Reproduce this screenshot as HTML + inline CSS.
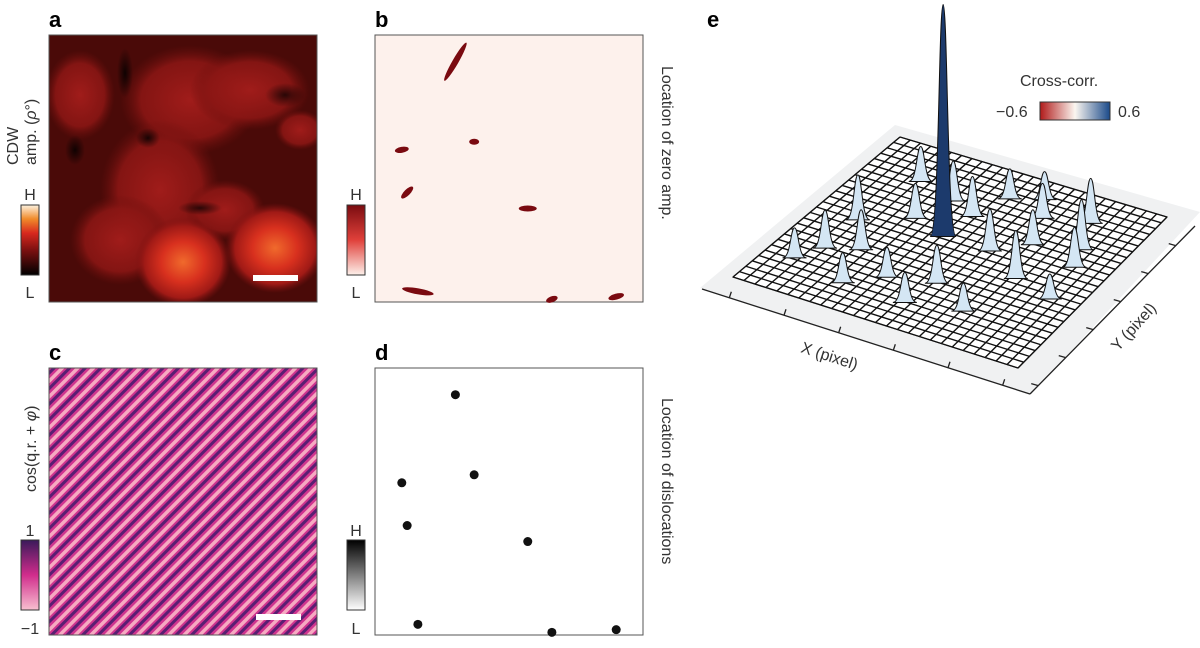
<!DOCTYPE html>
<html><head><meta charset="utf-8"><style>
body{margin:0;background:#fff;font-family:"Liberation Sans",sans-serif;}
svg text{font-family:"Liberation Sans","DejaVu Sans",sans-serif;}
</style></head><body>
<svg id="fig" width="1200" height="643" viewBox="0 0 1200 643" xmlns="http://www.w3.org/2000/svg">
<defs>
<linearGradient id="cbA" x1="0" y1="1" x2="0" y2="0"><stop offset="0" stop-color="#000"/><stop offset="0.35" stop-color="#7a1010"/><stop offset="0.6" stop-color="#d8281e"/><stop offset="0.8" stop-color="#f08a2a"/><stop offset="1" stop-color="#fdf2e0"/></linearGradient>
<linearGradient id="cbB" x1="0" y1="1" x2="0" y2="0"><stop offset="0" stop-color="#fdf0ea"/><stop offset="0.5" stop-color="#e0403a"/><stop offset="1" stop-color="#7a0c10"/></linearGradient>
<linearGradient id="cbC" x1="0" y1="1" x2="0" y2="0"><stop offset="0" stop-color="#f8c0d0"/><stop offset="0.5" stop-color="#d02c8c"/><stop offset="1" stop-color="#3a1a5a"/></linearGradient>
<linearGradient id="cbD" x1="0" y1="1" x2="0" y2="0"><stop offset="0" stop-color="#fff"/><stop offset="1" stop-color="#000"/></linearGradient>
<linearGradient id="cbE" x1="0" y1="0" x2="1" y2="0"><stop offset="0" stop-color="#b01a1a"/><stop offset="0.5" stop-color="#fbf6f0"/><stop offset="1" stop-color="#1a4a8a"/></linearGradient>
<radialGradient id="blobR"><stop offset="0" stop-color="#a01c1a"/><stop offset="0.7" stop-color="#8a1614" stop-opacity="0.9"/><stop offset="1" stop-color="#6a0e0c" stop-opacity="0"/></radialGradient>
<radialGradient id="blobH"><stop offset="0" stop-color="#f06a2c"/><stop offset="0.45" stop-color="#d8301e"/><stop offset="0.8" stop-color="#a01a16"/><stop offset="1" stop-color="#7a1010" stop-opacity="0"/></radialGradient>
<radialGradient id="blobK"><stop offset="0" stop-color="#000"/><stop offset="1" stop-color="#000" stop-opacity="0"/></radialGradient>
<pattern id="stripes" width="11" height="11" patternUnits="userSpaceOnUse" patternTransform="rotate(45)">
<rect width="11" height="11" fill="#d0348f"/><rect x="0" width="3" height="11" fill="#5a1e72"/><rect x="5.5" width="3.5" height="11" fill="#f6aac2"/>
</pattern>
<clipPath id="clipA"><rect x="49" y="35" width="268" height="267"/></clipPath>
<clipPath id="clipC"><rect x="49" y="368" width="268" height="267"/></clipPath>
</defs>

<!-- Panel a -->
<text x="49" y="27" font-size="22" font-weight="bold">a</text>
<g clip-path="url(#clipA)">
<rect x="49" y="35" width="268" height="267" fill="#4a0a08"/>
<ellipse cx="80" cy="95" rx="35" ry="45" fill="url(#blobR)"/>
<ellipse cx="190" cy="100" rx="70" ry="55" fill="url(#blobR)"/>
<ellipse cx="160" cy="190" rx="60" ry="70" fill="url(#blobR)"/>
<ellipse cx="120" cy="240" rx="50" ry="45" fill="url(#blobR)"/>
<ellipse cx="250" cy="90" rx="60" ry="40" fill="url(#blobR)"/>
<ellipse cx="300" cy="130" rx="25" ry="20" fill="url(#blobR)"/>
<ellipse cx="225" cy="210" rx="40" ry="30" fill="url(#blobR)"/>
<ellipse cx="183" cy="262" rx="48" ry="45" fill="url(#blobH)"/>
<ellipse cx="275" cy="248" rx="50" ry="45" fill="url(#blobH)"/>
<ellipse cx="125" cy="73" rx="8" ry="25" fill="url(#blobK)" opacity="0.8"/>
<ellipse cx="148" cy="138" rx="12" ry="10" fill="url(#blobK)" opacity="0.8"/>
<ellipse cx="75" cy="150" rx="10" ry="15" fill="url(#blobK)" opacity="0.8"/>
<ellipse cx="285" cy="95" rx="20" ry="12" fill="url(#blobK)" opacity="0.7"/>
<ellipse cx="200" cy="208" rx="22" ry="7" fill="url(#blobK)" opacity="0.7"/>
</g>
<rect x="49" y="35" width="268" height="267" fill="none" stroke="#555" stroke-width="1"/>
<rect x="253" y="275" width="45" height="6" fill="#fff"/>
<text transform="translate(18,165) rotate(-90)" font-size="16" fill="#333">CDW</text>
<text transform="translate(36,165) rotate(-90)" font-size="16" fill="#333">amp. (<tspan font-style="italic">ρ</tspan>°)</text>
<rect x="21" y="205" width="18" height="70" fill="url(#cbA)" stroke="#333"/>
<text x="30" y="200" font-size="16" text-anchor="middle" fill="#333">H</text>
<text x="30" y="298" font-size="16" text-anchor="middle" fill="#333">L</text>

<!-- Panel b -->
<text x="375" y="27" font-size="22" font-weight="bold">b</text>
<rect x="375" y="35" width="268" height="267" fill="#fdf1ec" stroke="#555"/>
<g id="blobsB"></g>
<text transform="translate(662,66) rotate(90)" font-size="16" fill="#333">Location of zero amp.</text>
<rect x="347" y="205" width="18" height="70" fill="url(#cbB)" stroke="#333"/>
<text x="356" y="200" font-size="16" text-anchor="middle" fill="#333">H</text>
<text x="356" y="298" font-size="16" text-anchor="middle" fill="#333">L</text>

<!-- Panel c -->
<text x="49" y="360" font-size="22" font-weight="bold">c</text>
<g clip-path="url(#clipC)"><rect x="49" y="368" width="268" height="267" fill="url(#stripes)"/></g>
<rect x="49" y="368" width="268" height="267" fill="none" stroke="#555"/>
<rect x="256" y="614" width="45" height="6" fill="#fff"/>
<text transform="translate(36,492) rotate(-90)" font-size="16" fill="#333">cos(q.r. + <tspan font-style="italic">φ</tspan>)</text>
<rect x="21" y="540" width="18" height="70" fill="url(#cbC)" stroke="#333"/>
<text x="30" y="536" font-size="16" text-anchor="middle" fill="#333">1</text>
<text x="30" y="634" font-size="16" text-anchor="middle" fill="#333">−1</text>

<!-- Panel d -->
<text x="375" y="360" font-size="22" font-weight="bold">d</text>
<rect x="375" y="368" width="268" height="267" fill="#fff" stroke="#555"/>
<g id="dotsD"></g>
<text transform="translate(662,398) rotate(90)" font-size="16" fill="#333">Location of dislocations</text>
<rect x="347" y="540" width="18" height="70" fill="url(#cbD)" stroke="#333"/>
<text x="356" y="536" font-size="16" text-anchor="middle" fill="#333">H</text>
<text x="356" y="634" font-size="16" text-anchor="middle" fill="#333">L</text>

<!-- Panel e -->
<text x="707" y="27" font-size="22" font-weight="bold">e</text>
<polygon points="700,288 1030,395 1200,212 895,125" fill="#f0f1f2"/>
<g id="gridE"></g>
<g id="peaksE"></g>
<line x1="702" y1="289" x2="1030" y2="394" stroke="#222" stroke-width="1.3"/>
<line x1="1030" y1="394" x2="1195" y2="226" stroke="#222" stroke-width="1.3"/>
<g id="ticksE"></g>
<text transform="translate(800,352) rotate(18)" font-size="16" fill="#333">X (pixel)</text>
<text transform="translate(1118,352) rotate(-48)" font-size="16" fill="#333">Y (pixel)</text>
<text x="1020" y="86" font-size="16" fill="#333">Cross-corr.</text>
<rect x="1040" y="102" width="70" height="18" fill="url(#cbE)" stroke="#333"/>
<text x="996" y="117" font-size="16" fill="#333">−0.6</text>
<text x="1118" y="117" font-size="16" fill="#333">0.6</text>
</svg>
<script>
// panel b/d: defect positions (fraction of box)
const defectX=[0.30,0.10,0.37,0.12,0.57,0.16,0.66,0.90];
const defectY=[0.10,0.43,0.40,0.59,0.65,0.96,0.99,0.98];
const blobLen=[22,7,5,8,9,16,6,8];
const blobAng=[-60,-10,0,-45,0,10,-20,-15];
// panel e peaks: grid fraction u (along X), v (along Y), height px
const peakU=[0.43,0.10,0.25,0.30,0.15,0.40,0.55,0.60,0.70,0.75,0.85,0.20,0.35,0.50,0.65,0.80,0.90,0.30,0.45,0.60,0.88,0.70,0.52,0.15];
const peakV=[0.55,0.20,0.35,0.60,0.50,0.25,0.30,0.55,0.20,0.45,0.70,0.80,0.75,0.85,0.80,0.85,0.40,0.15,0.70,0.90,0.60,0.65,0.15,0.30];
const peakH=[232,30,40,35,45,30,38,42,28,48,50,35,40,30,35,45,25,30,40,28,40,35,30,38];
const mainPeak=0;
const S='http://www.w3.org/2000/svg';
const bX=375,bY=35,dY=368,W=268,H=267;
const gb=document.getElementById('blobsB'),gd=document.getElementById('dotsD');
for(let i=0;i<defectX.length;i++){
 const e=document.createElementNS(S,'ellipse');
 const cx=bX+defectX[i]*W, cy=bY+defectY[i]*H;
 e.setAttribute('cx',cx);e.setAttribute('cy',cy);e.setAttribute('rx',blobLen[i]);e.setAttribute('ry',3);
 e.setAttribute('transform','rotate('+blobAng[i]+','+cx+','+cy+')');e.setAttribute('fill','#7a0a10');
 
 
 gb.appendChild(e);
 const c=document.createElementNS(S,'circle');
 c.setAttribute('cx',bX+defectX[i]*W);c.setAttribute('cy',dY+defectY[i]*H);c.setAttribute('r',4.5);c.setAttribute('fill','#111');
 
 
 gd.appendChild(c);
}
const P0=[733,277],P1=[1018,368],P2=[1167,217],P3=[900,137];
function proj(u,v){return [(1-u)*(1-v)*P0[0]+u*(1-v)*P1[0]+u*v*P2[0]+(1-u)*v*P3[0],(1-u)*(1-v)*P0[1]+u*(1-v)*P1[1]+u*v*P2[1]+(1-u)*v*P3[1]];}
const ge=document.getElementById('gridE');
const poly=document.createElementNS(S,'polygon');
poly.setAttribute('points',[P0,P1,P2,P3].map(p=>p.join(',')).join(' '));
poly.setAttribute('fill','#fff');poly.setAttribute('stroke','#111');


ge.appendChild(poly);
const N=26;let d='';
for(let i=0;i<=N;i++){const t=i/N;let a=proj(t,0),b=proj(t,1);d+='M'+a+'L'+b;a=proj(0,t);b=proj(1,t);d+='M'+a+'L'+b;}
const gp=document.createElementNS(S,'path');gp.setAttribute('d',d);gp.setAttribute('stroke','#111');gp.setAttribute('stroke-width','1.4');gp.setAttribute('fill','none');


ge.appendChild(gp);
const gpk=document.getElementById('peaksE');
const idx=peakU.map((_,i)=>i).sort((a,b)=>proj(peakU[a],peakV[a])[1]-proj(peakU[b],peakV[b])[1]);
for(const i of idx){
 const [x,y]=proj(peakU[i],peakV[i]);const main=i===mainPeak;const w=main?13:12,h=peakH[i];
 const p=document.createElementNS(S,'path');
 p.setAttribute('d','M'+(x-w)+','+y+' C'+(x-w*0.3)+','+y+' '+(x-w*0.35)+','+(y-h)+' '+x+','+(y-h)+' C'+(x+w*0.35)+','+(y-h)+' '+(x+w*0.3)+','+y+' '+(x+w)+','+y+'Z');
 p.setAttribute('fill',main?'#1c3a6c':'#d4e6f4');p.setAttribute('stroke','#111');p.setAttribute('stroke-width','1');
 
 
 gpk.appendChild(p);
}
const gt=document.getElementById('ticksE');let td='';
for(let k=0;k<6;k++){const t=(k+0.5)/6;
 const x=702+(1030-702)*t,y=289+(394-289)*t;td+='M'+x+','+y+'l2,-6';
 const x2=1030+(1195-1030)*((k+0.3)/6),y2=394+(226-394)*((k+0.3)/6);td+='M'+x2+','+y2+'l-7,-2';}
const tp=document.createElementNS(S,'path');tp.setAttribute('d',td);tp.setAttribute('stroke','#222');tp.setAttribute('stroke-width','1.3');


gt.appendChild(tp);
</script>
</body></html>
